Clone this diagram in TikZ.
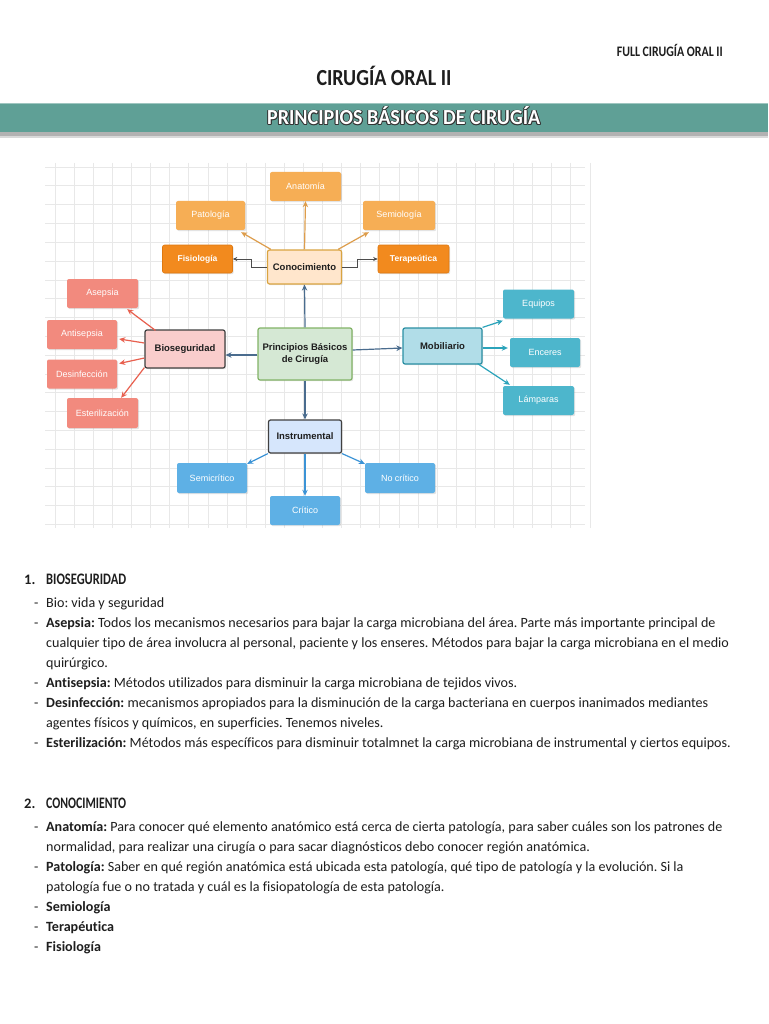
\documentclass[tikz,border=0pt]{standalone}
\usepackage{fontspec}
\usepackage{graphicx}
\setmainfont{Carlito}[Ligatures=NoCommon]
\newfontfamily\diagfont{Liberation Sans}
\usetikzlibrary{arrows.meta,shadows}
\definecolor{bandcol}{HTML}{5FA096}
\definecolor{lor}{HTML}{F6AE55}
\definecolor{dor}{HTML}{F28A1E}
\definecolor{dorline}{HTML}{DE7810}
\definecolor{confill}{HTML}{FFE6CC}
\definecolor{conline}{HTML}{D9A441}
\definecolor{salmon}{HTML}{F28A7E}
\definecolor{salline}{HTML}{E8604F}
\definecolor{biofill}{HTML}{F9CDCC}
\definecolor{prifill}{HTML}{D5E8D4}
\definecolor{priline}{HTML}{82B366}
\definecolor{mobfill}{HTML}{B1DDE8}
\definecolor{mobline}{HTML}{2A8FA3}
\definecolor{tealbox}{HTML}{4DB6CC}
\definecolor{tealline}{HTML}{2BA3BA}
\definecolor{insfill}{HTML}{D6E6FC}
\definecolor{bluebox}{HTML}{5EB0E5}
\definecolor{blueline}{HTML}{3B93D6}
\definecolor{mainline}{HTML}{4A6C8E}
\definecolor{gridcol}{HTML}{E8E8E8}
\definecolor{txt}{HTML}{1E1E1E}
\tikzset{
  bx/.style={rounded corners=2pt, font=\diagfont\fontsize{9}{10.5}\selectfont, inner sep=0pt, align=center,
    drop shadow={opacity=0.22, shadow xshift=1.2pt, shadow yshift=-1.2pt}},
  lorbox/.style={bx, fill=lor, text=white},
  dorbox/.style={bx, fill=dor, draw=dorline, line width=0.6pt, text=white, font=\diagfont\bfseries\fontsize{8.5}{10}\selectfont},
  salbox/.style={bx, fill=salmon, text=white},
  tealb/.style={bx, fill=tealbox, text=white},
  blueb/.style={bx, fill=bluebox, text=white},
  hubbox/.style={bx, line width=1.2pt, text=txt, font=\diagfont\bfseries\fontsize{9.5}{11.5}\selectfont},
  arr/.style={-{Stealth[length=6pt,width=5.5pt]}, line width=1.2pt},
  bodyl/.style={anchor=base west, inner sep=0pt, text=txt, font=\fontsize{14.1}{16}\selectfont},
  hd/.style={anchor=base west, inner sep=0pt, text=txt}
}
\newcommand{\wfit}[2]{\resizebox{#1}{\height}{#2}}
\frenchspacing
\begin{document}
\begin{tikzpicture}[x=1pt,y=-1pt]
\useasboundingbox (0,0) rectangle (768,1024);
\fill[white] (0,0) rectangle (768,1024);

% header
\node[hd, anchor=base east] (full) at (723,57) {\wfit{106pt}{\fontsize{14.5}{16}\selectfont\bfseries FULL CIRUGÍA ORAL II}};
\node[hd, anchor=base] (title) at (384,86) {\wfit{135pt}{\fontsize{23}{24}\selectfont\bfseries CIRUGÍA ORAL II}};
\fill[gray!60] (0,131) rectangle (768,136);
\fill[gray!30] (0,136) rectangle (768,138);
\fill[bandcol] (0,103) rectangle (768,132);
\draw[bandcol!60!white, line width=0.6pt] (0,103) -- (768,103);
\foreach \dx/\dy in {0.9/0,-0.9/0,0/0.9,0/-0.9,0.65/0.65,-0.65/0.65,0.65/-0.65,-0.65/-0.65}{
  \node[hd, text=black!80] at (267+\dx,125+\dy) {\wfit{273pt}{\fontsize{21.5}{23}\selectfont\bfseries PRINCIPIOS BÁSICOS DE CIRUGÍA}};
}
\node[hd, text=white] (band) at (267,125) {\wfit{273pt}{\fontsize{21.5}{23}\selectfont\bfseries PRINCIPIOS BÁSICOS DE CIRUGÍA}};

% diagram background grid
\fill[white] (45,163) rectangle (585,528);
\foreach \i in {0,...,28} { \draw[gridcol, line width=0.6pt] (55+19.1*\i,163) -- (55+19.1*\i,528); }
\foreach \j in {0,...,19} { \draw[gridcol, line width=0.6pt] (45,167+18.8*\j) -- (585,167+18.8*\j); }

% nodes
\node[lorbox, minimum width=71pt, minimum height=29pt] (ana) at (305.5,186.5) {Anatomía};
\node[lorbox, minimum width=69pt, minimum height=29pt] (pat) at (210.5,215.5) {Patología};
\node[lorbox, minimum width=72pt, minimum height=29pt] (sem) at (399,215.5) {Semiología};
\node[dorbox, minimum width=70pt, minimum height=28pt] (fis) at (197.5,259) {Fisiología};
\node[dorbox, minimum width=71pt, minimum height=28pt] (ter) at (413.5,259) {Terapeútica};
\node[hubbox, fill=confill, draw=conline, minimum width=74pt, minimum height=34pt] (con) at (304.5,267) {Conocimiento};

\node[salbox, minimum width=71pt, minimum height=29pt] (ase) at (102.5,293.5) {Asepsia};
\node[salbox, minimum width=70pt, minimum height=29pt] (ant) at (82,334.5) {Antisepsia};
\node[salbox, minimum width=70pt, minimum height=29pt] (des) at (82,374) {Desinfección};
\node[salbox, minimum width=71pt, minimum height=30pt] (est) at (102.5,413) {Esterilización};
\node[hubbox, fill=biofill, draw=black!75, minimum width=80pt, minimum height=38pt] (bio) at (185,349) {Bioseguridad};

\node[hubbox, fill=prifill, draw=priline, minimum width=94pt, minimum height=52pt] (pri) at (305,354) {Principios Básicos\\de Cirugía};

\node[hubbox, fill=mobfill, draw=mobline, minimum width=79pt, minimum height=36pt] (mob) at (442.5,346) {Mobiliario};
\node[tealb, minimum width=71pt, minimum height=29pt] (equ) at (538.5,304) {Equipos};
\node[tealb, minimum width=70pt, minimum height=29pt] (enc) at (545,352.5) {Enceres};
\node[tealb, minimum width=71pt, minimum height=29pt] (lam) at (538.5,400.5) {Lámparas};

\node[hubbox, fill=insfill, draw=black!75, minimum width=73pt, minimum height=33pt] (ins) at (305,436.5) {Instrumental};
\node[blueb, minimum width=70pt, minimum height=30pt] (semc) at (212,478) {Semicrítico};
\node[blueb, minimum width=70pt, minimum height=30pt] (noc) at (400,478) {No crítico};
\node[blueb, minimum width=70pt, minimum height=29pt] (cri) at (305,510.5) {Crítico};

% connectors
\draw[arr, mainline] (pri.north) -- (con.south);
\draw[arr, mainline] ([yshift=-1pt]pri.west) -- ([yshift=-1pt]pri.west -| bio.east);
\draw[arr, mainline] ([yshift=4pt]pri.east) -- ([yshift=-2pt]mob.west);
\draw[arr, mainline] (pri.south) -- (ins.north);

\draw[arr, lor!90!black] (con.north) -- (ana.south);
\draw[arr, lor!90!black] ([xshift=4pt]con.north west) -- ([xshift=-4pt,yshift=-2pt]pat.south east);
\draw[arr, lor!90!black] ([xshift=-4pt]con.north east) -- ([xshift=6pt,yshift=-2pt]sem.south west);
\draw[-{Stealth[length=4.5pt,width=4pt]}, line width=0.8pt, black!70] (con.west) -- ++(-16,0) |- (fis.east);
\draw[-{Stealth[length=4.5pt,width=4pt]}, line width=0.8pt, black!70] (con.east) -- ++(15,0) |- (ter.west);

\draw[arr, salline] ([xshift=11pt,yshift=-1pt]bio.north west) -- ([xshift=-11pt,yshift=-1pt]ase.south east);
\draw[arr, salline] ([yshift=6pt]bio.west) -- ([xshift=2pt,yshift=-4.5pt]ant.east);
\draw[arr, salline] ([yshift=-9pt]bio.west) -- ([xshift=2pt,yshift=10.5pt]des.east);
\draw[arr, salline] ([yshift=1pt]bio.south west) -- ([xshift=-17pt]est.north east);

\draw[arr, tealline] (mob.north east) -- ([yshift=-2pt]equ.south west);
\draw[arr, tealline] ([yshift=-2pt]mob.east) -- ([xshift=-2pt,yshift=4.5pt]enc.west);
\draw[arr, tealline] ([xshift=-5pt,yshift=1pt]mob.south east) -- ([xshift=7pt,yshift=1pt]lam.north west);

\draw[arr, blueline] (ins.south west) -- ([yshift=-1pt]semc.north east);
\draw[arr, blueline] (ins.south) -- (cri.north);
\draw[arr, blueline] (ins.south east) -- ([yshift=-1pt]noc.north west);

% section 1
\node[hd] (n1) at (24,584) {\fontsize{14.5}{16}\selectfont\bfseries 1.};
\node[hd] (h1) at (46,584) {\wfit{80pt}{\fontsize{16}{18}\selectfont\bfseries BIOSEGURIDAD}};
\foreach \y in {607,627,687,707,747}{ \node[bodyl] at (34,\y) {-}; }
\node[bodyl] (l1) at (46,607) {Bio: vida y seguridad};
\node[bodyl] (l2) at (46,627) {\textbf{Asepsia:} Todos los mecanismos necesarios para bajar la carga microbiana del área. Parte más importante principal de};
\node[bodyl] (l3) at (46,647) {cualquier tipo de área involucra al personal, paciente y los enseres. Métodos para bajar la carga microbiana en el medio};
\node[bodyl] (l4) at (46,667) {quirúrgico.};
\node[bodyl] (l5) at (46,687) {\textbf{Antisepsia:} Métodos utilizados para disminuir la carga microbiana de tejidos vivos.};
\node[bodyl] (l6) at (46,707) {\textbf{Desinfección:} mecanismos apropiados para la disminución de la carga bacteriana en cuerpos inanimados mediantes};
\node[bodyl] (l7) at (46,727) {agentes físicos y químicos, en superficies. Tenemos niveles.};
\node[bodyl] (l8) at (46,747) {\textbf{Esterilización:} Métodos más específicos para disminuir totalmnet la carga microbiana de instrumental y ciertos equipos.};

% section 2
\node[hd] (n2) at (24,808) {\fontsize{14.5}{16}\selectfont\bfseries 2.};
\node[hd] (h2) at (46,808) {\wfit{80pt}{\fontsize{16}{18}\selectfont\bfseries CONOCIMIENTO}};
\foreach \y in {831,871,911,931,951}{ \node[bodyl] at (34,\y) {-}; }
\node[bodyl] (m1) at (46,831) {\textbf{Anatomía:} Para conocer qué elemento anatómico está cerca de cierta patología, para saber cuáles son los patrones de};
\node[bodyl] (m2) at (46,851) {normalidad, para realizar una cirugía o para sacar diagnósticos debo conocer región anatómica.};
\node[bodyl] (m3) at (46,871) {\textbf{Patología:} Saber en qué región anatómica está ubicada esta patología, qué tipo de patología y la evolución. Si la};
\node[bodyl] (m4) at (46,891) {patología fue o no tratada y cuál es la fisiopatología de esta patología.};
\node[bodyl] (m5) at (46,911) {\textbf{Semiología}};
\node[bodyl] (m6) at (46,931) {\textbf{Terapéutica}};
\node[bodyl] (m7) at (46,951) {\textbf{Fisiología}};
\end{tikzpicture}
\end{document}
